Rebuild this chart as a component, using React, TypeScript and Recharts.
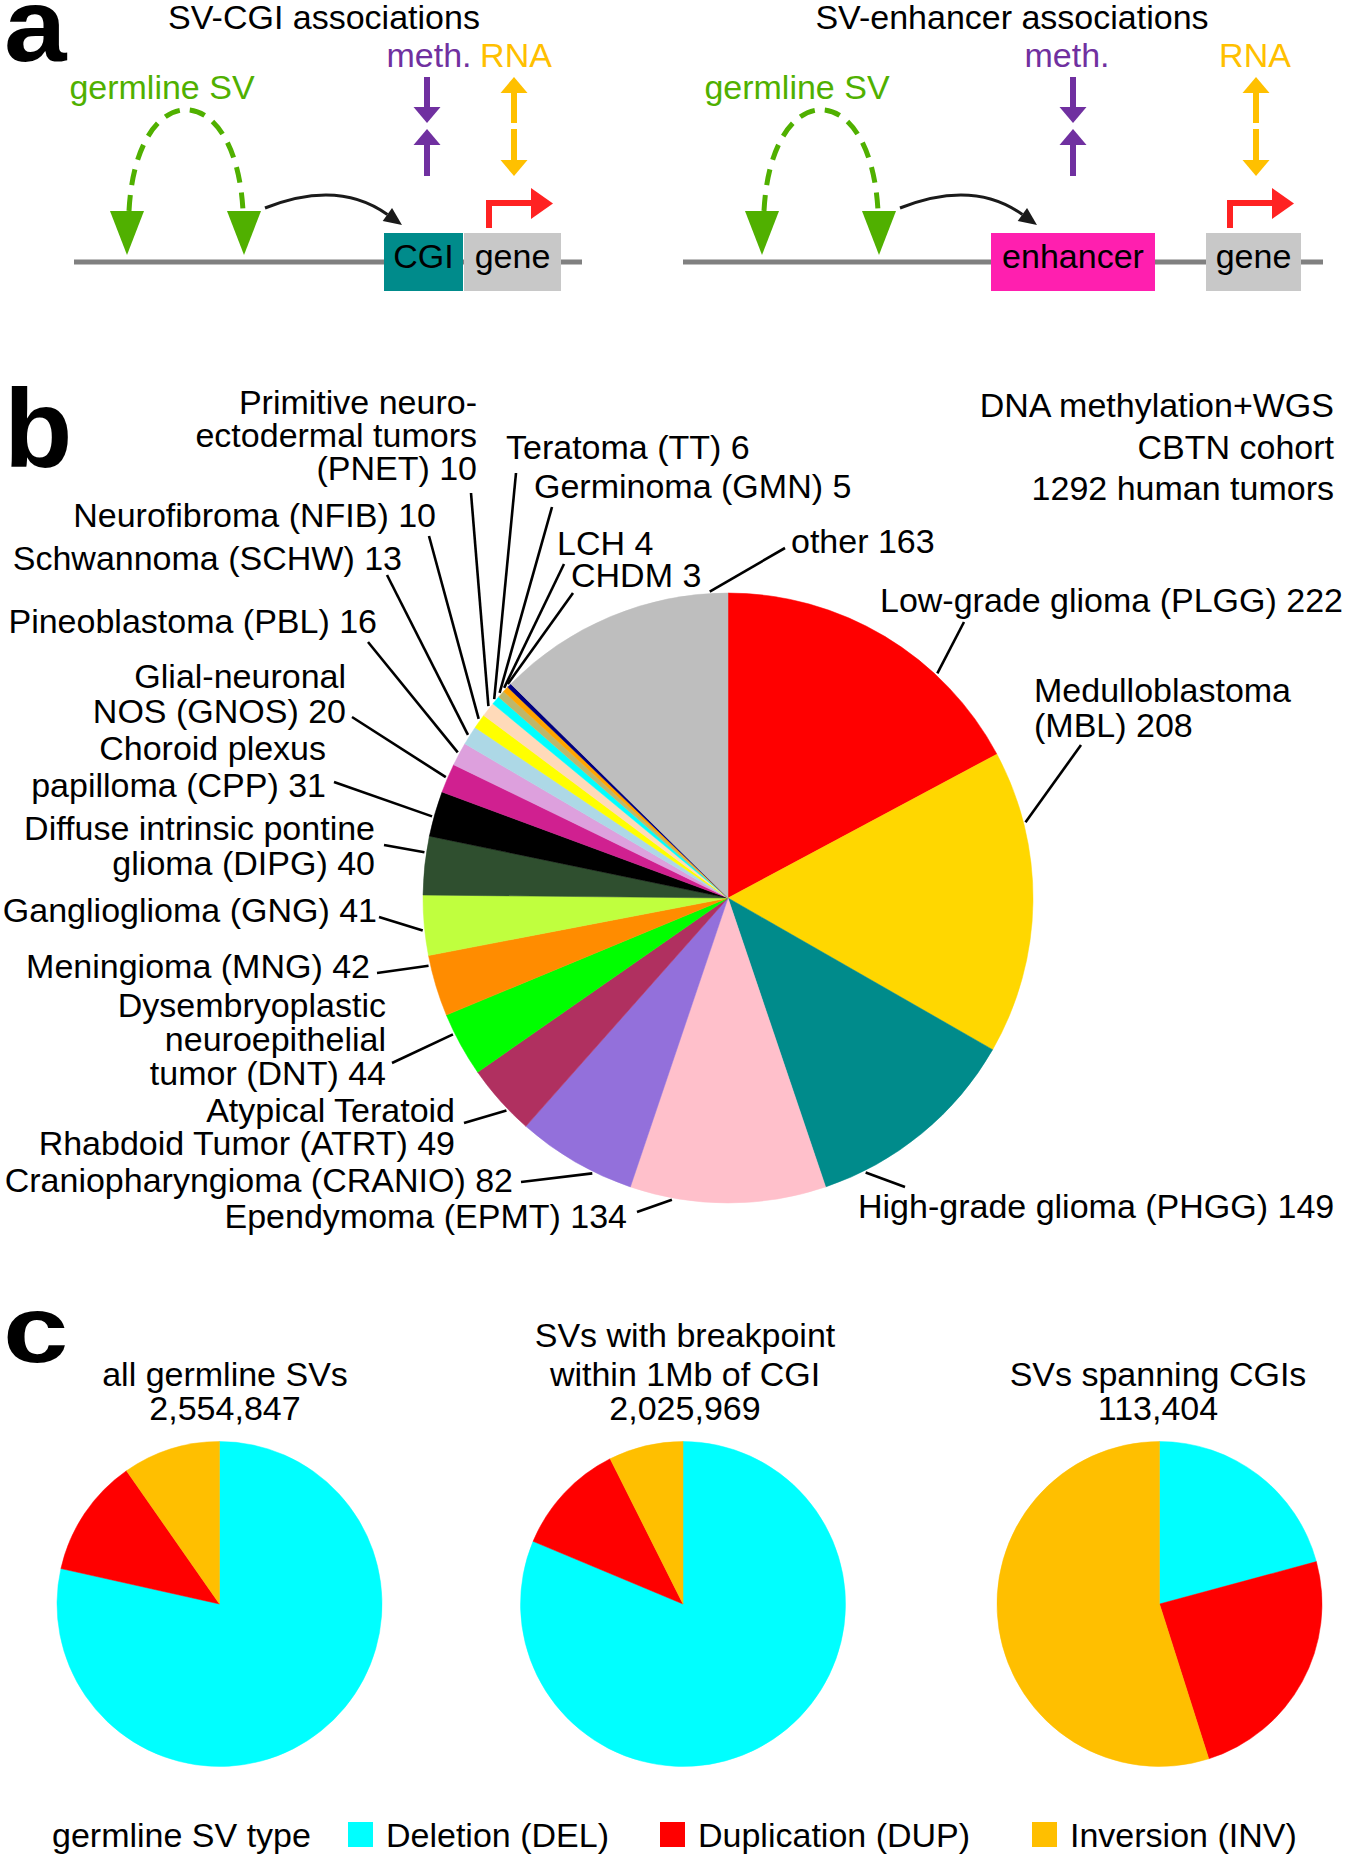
import React from 'react';
import { PieChart, Pie, Cell } from 'recharts';

const FONT = '"Liberation Sans", Arial, Helvetica, sans-serif';

// ---------- Panel b data ----------
const tumorNames = [
  'Low-grade glioma (PLGG)',
  'Medulloblastoma\n(MBL)',
  'High-grade glioma (PHGG)',
  'Ependymoma (EPMT)',
  'Craniopharyngioma (CRANIO)',
  'Atypical Teratoid\nRhabdoid Tumor (ATRT)',
  'Dysembryoplastic\nneuroepithelial\ntumor (DNT)',
  'Meningioma (MNG)',
  'Ganglioglioma (GNG)',
  'Diffuse intrinsic pontine\nglioma (DIPG)',
  'Choroid plexus\npapilloma (CPP)',
  'Glial-neuronal\nNOS (GNOS)',
  'Pineoblastoma (PBL)',
  'Schwannoma (SCHW)',
  'Neurofibroma (NFIB)',
  'Primitive neuro-\nectodermal tumors\n(PNET)',
  'Teratoma (TT)',
  'Germinoma (GMN)',
  'LCH',
  'CHDM',
  'other',
];
const tumorCounts = [222, 208, 149, 134, 82, 49, 44, 42, 41, 40, 31, 20, 16, 13, 10, 10, 6, 5, 4, 3, 163];
const tumorColors = [
  '#FF0000', '#FFD700', '#008B8B', '#FFC0CB', '#9370DB', '#B03060', '#00FF00', '#FF8C00',
  '#C0FF3E', '#2F4F2F', '#000000', '#D02090', '#DDA0DD', '#ADD8E6', '#FFFF00', '#FFDAB9',
  '#00FFFF', '#BDB76B', '#FFA500', '#000080', '#BEBEBE',
];
const cohortText = ['DNA methylation+WGS', 'CBTN cohort', '1292 human tumors'];

// ---------- Panel c data ----------
const svTypes = ['Deletion (DEL)', 'Duplication (DUP)', 'Inversion (INV)'];
const svColors = ['#00FFFF', '#FF0000', '#FFBF00'];
const svSetTitles = [['all germline SVs'], ['SVs with breakpoint', 'within 1Mb of CGI'], ['SVs spanning CGIs']];
const svSetTotals = ['2,554,847', '2,025,969', '113,404'];
const allSVsPct = [78.5, 11.8, 9.7];
const nearCGIPct = [81.3, 11.3, 7.4];
const spanningCGIPct = [20.8, 24.3, 54.9];

// ---------- layout (page coordinates) ----------
const B_TOP = 330;
const B_HEIGHT = 930;
const C_TOP = 1420;
const C_HEIGHT = 370;
const NO_MARGIN = { top: 0, right: 0, bottom: 0, left: 0 };

type LabelLayout = { x: number; y: number; dy: number; anchor: 'start' | 'end'; lx: number; ly: number; t: number };
const tumorLabelLayout: LabelLayout[] = [
  { x: 880, y: 612, dy: 0, anchor: 'start', lx: 964, ly: 622, t: 0.695 },
  { x: 1034, y: 702, dy: 35, anchor: 'start', lx: 1081, ly: 745, t: 0.239 },
  { x: 858, y: 1218, dy: 0, anchor: 'start', lx: 905, ly: 1187, t: 0.808 },
  { x: 627, y: 1228, dy: 0, anchor: 'end', lx: 637, ly: 1212, t: 0.782 },
  { x: 513, y: 1192, dy: 0, anchor: 'end', lx: 521, ly: 1182, t: 0.331 },
  { x: 455, y: 1122, dy: 33, anchor: 'end', lx: 464, ly: 1123, t: 0.343 },
  { x: 386, y: 1017, dy: 34, anchor: 'end', lx: 392, ly: 1063, t: 0.69 },
  { x: 370, y: 978, dy: 0, anchor: 'end', lx: 377, ly: 973, t: 0.84 },
  { x: 377, y: 922, dy: 0, anchor: 'end', lx: 379, ly: 917, t: 0.42 },
  { x: 375, y: 840, dy: 35, anchor: 'end', lx: 384, ly: 845, t: 0.72 },
  { x: 326, y: 760, dy: 37, anchor: 'end', lx: 334, ly: 782, t: 0.43 },
  { x: 346, y: 688, dy: 35, anchor: 'end', lx: 352, ly: 717, t: 0.51 },
  { x: 377, y: 633, dy: 0, anchor: 'end', lx: 368, ly: 642, t: 0.54 },
  { x: 402, y: 570, dy: 0, anchor: 'end', lx: 387, ly: 575, t: 0.48 },
  { x: 436, y: 527, dy: 0, anchor: 'end', lx: 429, ly: 536, t: 0.61 },
  { x: 477, y: 414, dy: 33, anchor: 'end', lx: 471, ly: 493, t: 0.69 },
  { x: 506, y: 459, dy: 0, anchor: 'start', lx: 516, ly: 473, t: 0.5 },
  { x: 534, y: 498, dy: 0, anchor: 'start', lx: 552, ly: 507, t: 0.5 },
  { x: 557, y: 555, dy: 0, anchor: 'start', lx: 564, ly: 564, t: 0.5 },
  { x: 571, y: 587, dy: 0, anchor: 'start', lx: 573, ly: 593, t: 0.5 },
  { x: 791, y: 553, dy: 0, anchor: 'start', lx: 785, ly: 548, t: 0.925 },
];

const tumorData = tumorNames.map((name, i) => ({ name, value: tumorCounts[i] }));
const makeSv = (vals: number[]) => svTypes.map((name, i) => ({ name, value: vals[i] }));
const svSets = [makeSv(allSVsPct), makeSv(nearCGIPct), makeSv(spanningCGIPct)];
const svPieCx = [219.5, 683, 1159.5];
const svTitleCx = [225, 685, 1158];

const renderTumorLabel = (props: any) => {
  const { cx, cy, outerRadius, startAngle, endAngle, index, value } = props;
  const lay = tumorLabelLayout[index];
  const a = ((startAngle + lay.t * (endAngle - startAngle)) * Math.PI) / 180;
  const r = outerRadius + 2;
  const px = cx + r * Math.cos(a);
  const py = cy - r * Math.sin(a);
  const lines = tumorNames[index].split('\n');
  lines[lines.length - 1] = lines[lines.length - 1] + ' ' + value;
  return (
    <g key={`tl-${index}`}>
      <line x1={lay.lx} y1={lay.ly - B_TOP} x2={px} y2={py} stroke="#000" strokeWidth={2.6} />
      <text x={lay.x} y={lay.y - B_TOP} textAnchor={lay.anchor} fontFamily={FONT} fontSize={34} fill="#000">
        {lines.map((l, i) => (
          <tspan key={i} x={lay.x} dy={i === 0 ? 0 : lay.dy}>
            {l}
          </tspan>
        ))}
      </text>
    </g>
  );
};

// ---------- Panel a schematic helpers ----------
const GREEN = '#50B000';
const PURPLE = '#7030A0';
const ORANGE = '#FFC000';
const RED = '#FF2222';

function VArrow({ x, from, to, color }: { x: number; from: number; to: number; color: string }) {
  const sign = to > from ? 1 : -1;
  const hl = 16;
  const hw = 13.5;
  return (
    <g>
      <line x1={x} y1={from} x2={x} y2={to - sign * (hl - 1)} stroke={color} strokeWidth={6} />
      <polygon points={`${x - hw},${to - sign * hl} ${x + hw},${to - sign * hl} ${x},${to}`} fill={color} />
    </g>
  );
}

function Schematic({ dx, lineX1, lineX2, boxes, purpleX, orangeX, redDx, title, titleX, gsvX, methX, rnaX }: any) {
  const sx = 265 + dx, sy = 208, qx = 338 + dx, qy = 179, tipx = 402 + dx, tipy = 225;
  const dirx = tipx - qx, diry = tipy - qy;
  const n = Math.hypot(dirx, diry);
  const ux = dirx / n, uy = diry / n;
  const bx = tipx - 18 * ux, by = tipy - 18 * uy;
  const px = -uy * 8, py = ux * 8;
  return (
    <g fontFamily={FONT}>
      <text x={titleX} y={29} textAnchor="middle" fontSize={34} fill="#000">{title}</text>
      <text x={gsvX} y={99} textAnchor="middle" fontSize={34} fill={GREEN}>germline SV</text>
      <text x={methX} y={67} textAnchor="middle" fontSize={34} fill={PURPLE}>meth.</text>
      <text x={rnaX} y={67} textAnchor="middle" fontSize={34} fill={ORANGE}>RNA</text>
      <path d={`M${129 + dx} 211 C${136 + dx} 76 ${236 + dx} 76 ${243 + dx} 211`} fill="none" stroke={GREEN} strokeWidth={5} strokeDasharray="16 10" />
      <polygon points={`${110 + dx},211 ${144 + dx},211 ${127 + dx},255`} fill={GREEN} />
      <polygon points={`${227 + dx},211 ${261 + dx},211 ${244 + dx},255`} fill={GREEN} />
      <rect x={lineX1} y={259.5} width={lineX2 - lineX1} height={5} fill="#808080" />
      {boxes.map((b: any, i: number) => (
        <g key={i}>
          <rect x={b.x1} y={233} width={b.x2 - b.x1} height={58} fill={b.fill} />
          <text x={(b.x1 + b.x2) / 2} y={268} textAnchor="middle" fontSize={34} fill="#000">{b.label}</text>
        </g>
      ))}
      <path d={`M${sx} ${sy} Q${qx} ${qy} ${bx} ${by}`} fill="none" stroke="#1a1a1a" strokeWidth={3} />
      <polygon points={`${tipx},${tipy} ${bx + px},${by + py} ${bx - px},${by - py}`} fill="#1a1a1a" />
      <VArrow x={purpleX} from={77} to={123} color={PURPLE} />
      <VArrow x={purpleX} from={176} to={129} color={PURPLE} />
      <VArrow x={orangeX} from={123} to={77} color={ORANGE} />
      <VArrow x={orangeX} from={129} to={176} color={ORANGE} />
      <polyline points={`${489 + redDx},228 ${489 + redDx},203 ${533 + redDx},203`} fill="none" stroke={RED} strokeWidth={6} />
      <polygon points={`${531 + redDx},188 ${553 + redDx},203.5 ${531 + redDx},219`} fill={RED} />
    </g>
  );
}

export default function App() {
  return (
    <div style={{ position: 'absolute', left: 0, top: 0, width: 1348, height: 1857, background: '#fff', overflow: 'hidden' }}>
      {/* Panel b pie */}
      <div style={{ position: 'absolute', left: 0, top: B_TOP }}>
        <PieChart width={1348} height={B_HEIGHT} margin={NO_MARGIN}>
          <Pie
            data={tumorData}
            dataKey="value"
            nameKey="name"
            cx={728}
            cy={898 - B_TOP}
            outerRadius={305}
            startAngle={90}
            endAngle={-270}
            isAnimationActive={false}
            label={renderTumorLabel}
            labelLine={false}
            stroke="none"
          >
            {tumorData.map((d, i) => (
              <Cell key={d.name} fill={tumorColors[i]} stroke={tumorColors[i]} strokeWidth={0.5} />
            ))}
          </Pie>
        </PieChart>
      </div>

      {/* Panel c pies */}
      <div style={{ position: 'absolute', left: 0, top: C_TOP }}>
        <PieChart width={1348} height={C_HEIGHT} margin={NO_MARGIN}>
          {svSets.map((set, k) => (
            <Pie
              key={k}
              data={set}
              dataKey="value"
              nameKey="name"
              cx={svPieCx[k]}
              cy={1604 - C_TOP}
              outerRadius={162.5}
              startAngle={90}
              endAngle={-270}
              isAnimationActive={false}
              stroke="none"
            >
              {set.map((d, i) => (
                <Cell key={d.name} fill={svColors[i]} stroke={svColors[i]} strokeWidth={0.5} />
              ))}
            </Pie>
          ))}
        </PieChart>
      </div>

      {/* Text / schematic overlay */}
      <svg width={1348} height={1857} style={{ position: 'absolute', left: 0, top: 0, pointerEvents: 'none' }}>
        <text transform="translate(4,61) scale(1.08,1)" fontFamily={FONT} fontWeight="bold" fontSize={104} fill="#000">a</text>
        <text transform="translate(4,467)" fontFamily={FONT} fontWeight="bold" fontSize={112} fill="#000">b</text>
        <text transform="translate(3,1362) scale(1.25,1)" fontFamily={FONT} fontWeight="bold" fontSize={94} fill="#000">c</text>

        <Schematic
          dx={0}
          lineX1={74}
          lineX2={582}
          boxes={[
            { x1: 384, x2: 463, fill: '#008B8B', label: 'CGI' },
            { x1: 464, x2: 561, fill: '#C8C8C8', label: 'gene' },
          ]}
          purpleX={427}
          orangeX={514}
          redDx={0}
          title="SV-CGI associations"
          titleX={324}
          gsvX={162}
          methX={429}
          rnaX={516}
        />
        <Schematic
          dx={635}
          lineX1={683}
          lineX2={1323}
          boxes={[
            { x1: 991, x2: 1155, fill: '#FF1FAF', label: 'enhancer' },
            { x1: 1206, x2: 1301, fill: '#C8C8C8', label: 'gene' },
          ]}
          purpleX={1073}
          orangeX={1256}
          redDx={741}
          title="SV-enhancer associations"
          titleX={1012}
          gsvX={797}
          methX={1067}
          rnaX={1255}
        />

        <g fontFamily={FONT} fontSize={34} fill="#000">
          {cohortText.map((t, i) => (
            <text key={t} x={1334} y={417 + i * 41.5} textAnchor="end">{t}</text>
          ))}
        </g>

        <g fontFamily={FONT} fontSize={34} fill="#000" textAnchor="middle">
          {svSetTitles.map((lines, k) => (
            <g key={k}>
              {lines.map((l, j) => (
                <text key={l} x={svTitleCx[k]} y={1386 - (lines.length - 1 - j) * 39}>{l}</text>
              ))}
              <text x={svTitleCx[k]} y={1420}>{svSetTotals[k]}</text>
            </g>
          ))}
        </g>

        <g fontFamily={FONT} fontSize={34} fill="#000">
          <text x={52} y={1847}>germline SV type</text>
          {svTypes.map((t, i) => {
            const sq = [348, 660, 1032][i];
            return (
              <g key={t}>
                <rect x={sq} y={1822} width={25} height={25} fill={svColors[i]} />
                <text x={sq + 38} y={1847}>{t}</text>
              </g>
            );
          })}
        </g>
      </svg>
    </div>
  );
}
